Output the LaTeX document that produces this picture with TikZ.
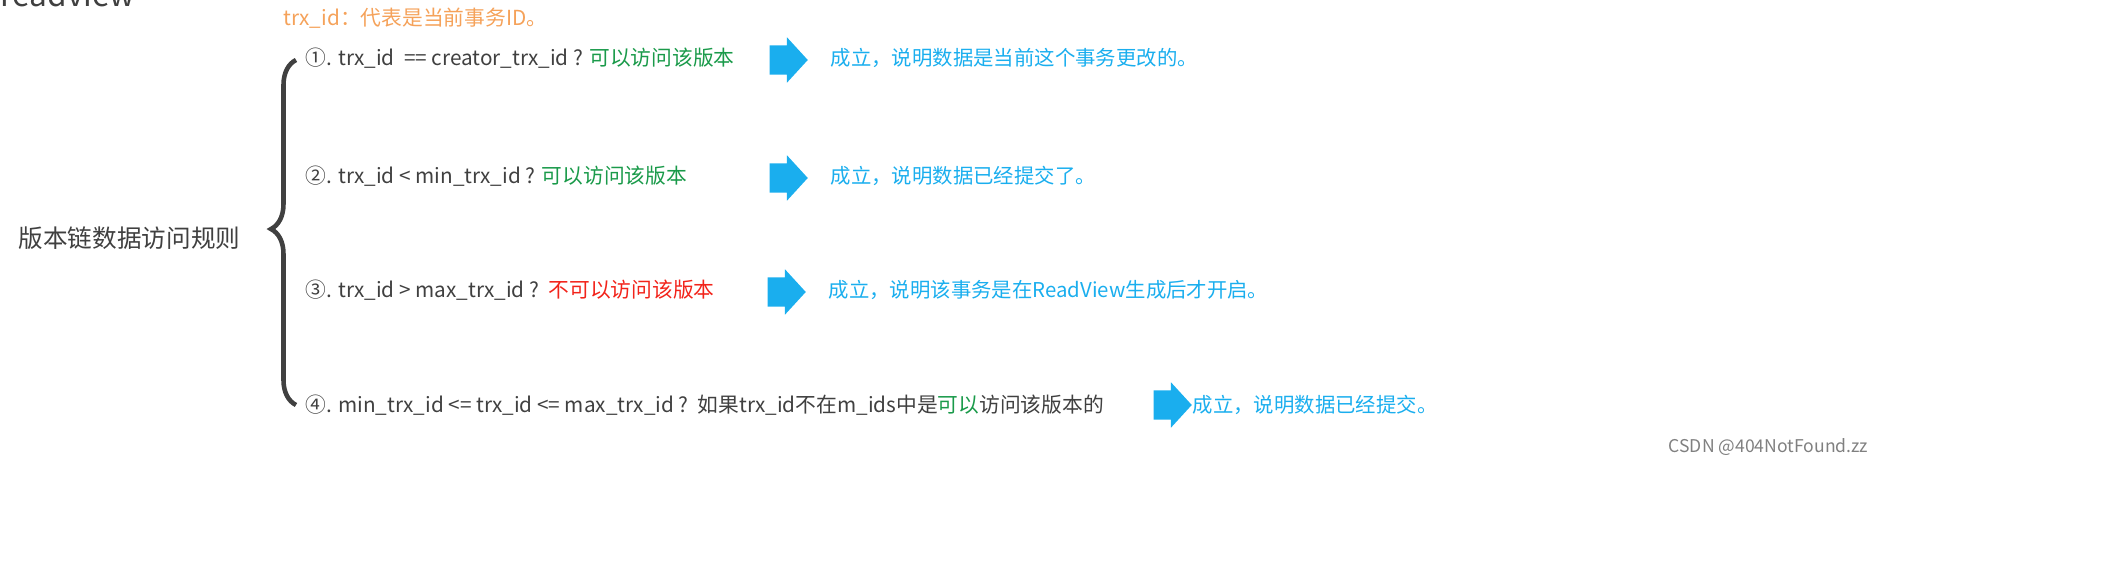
\documentclass[tikz,border=0pt]{standalone}
\usepackage{fontspec}
\setmainfont{Noto Sans CJK SC}
\usetikzlibrary{positioning,shapes.arrows,decorations.pathreplacing}
\definecolor{rulegreen}{HTML}{1A9A4A}
\definecolor{rulered}{HTML}{F2231A}
\definecolor{ruleblue}{HTML}{1AAEEE}
\definecolor{noteorange}{HTML}{F5A25A}
\definecolor{txtgray}{HTML}{404040}
\tikzset{
  rule/.style={anchor=west,inner sep=0pt,text=txtgray,font=\fontsize{5.9}{7}\selectfont},
  res/.style={anchor=west,inner sep=0pt,text=ruleblue,font=\fontsize{5.8}{7}\selectfont},
  blockarrow/.style={single arrow,fill=ruleblue,minimum height=0.38cm,text height=0.14cm,
    text depth=0.14cm,text width=0.16cm,single arrow head extend=0.08cm,
    single arrow tip angle=95,inner sep=0pt}
}
\begin{document}
\begin{tikzpicture}[x=0.01cm,y=-0.01cm]
  \useasboundingbox (0,0) rectangle (2115,583);
  \clip (0,0) rectangle (2115,583);
  %% title and note
  \node[rule,font=\fontsize{9}{10}\selectfont] (title) at (0,-6) {readview};
  \node[rule,text=noteorange] (note) at (283,18) {trx\_id：代表是当前事务ID。};
  %% brace and label
  \draw[txtgray,line width=1.3pt,decorate,decoration={brace,amplitude=0.25cm,aspect=0.51}]
    (296,405) -- (296,60);
  \node[rule,font=\fontsize{7}{8}\selectfont] (label) at (18,238) {版本链数据访问规则};
  %% rules
  \node[rule] (r1) at (305,58) {①. trx\_id\ \ == creator\_trx\_id ? \textcolor{rulegreen}{可以访问该版本}};
  \node[rule] (r2) at (305,176) {②. trx\_id < min\_trx\_id ? \textcolor{rulegreen}{可以访问该版本}};
  \node[rule] (r3) at (305,290) {③. trx\_id > max\_trx\_id ?\ \ \textcolor{rulered}{不可以访问该版本}};
  \node[rule] (r4) at (305,405) {④. min\_trx\_id <= trx\_id <= max\_trx\_id ?\ \ 如果trx\_id不在m\_ids中是\textcolor{rulegreen}{可以}访问该版本的};
  %% arrows
  \node[blockarrow] (a1) at (782,60) {};
  \node[blockarrow] (a2) at (782,178) {};
  \node[blockarrow] (a3) at (780,292) {};
  \node[blockarrow] (a4) at (1166,405) {};
  %% results
  \node[res] (s1) at (830,58) {成立，说明数据是当前这个事务更改的。};
  \node[res] (s2) at (830,176) {成立，说明数据已经提交了。};
  \node[res] (s3) at (828,290) {成立，说明该事务是在ReadView生成后才开启。};
  \node[res] (s4) at (1192,405) {成立，说明数据已经提交。};
  \node[rule,text=gray,font=\fontsize{5}{6}\selectfont] (mark) at (1668,447) {CSDN @404NotFound.zz};
\end{tikzpicture}
\end{document}
